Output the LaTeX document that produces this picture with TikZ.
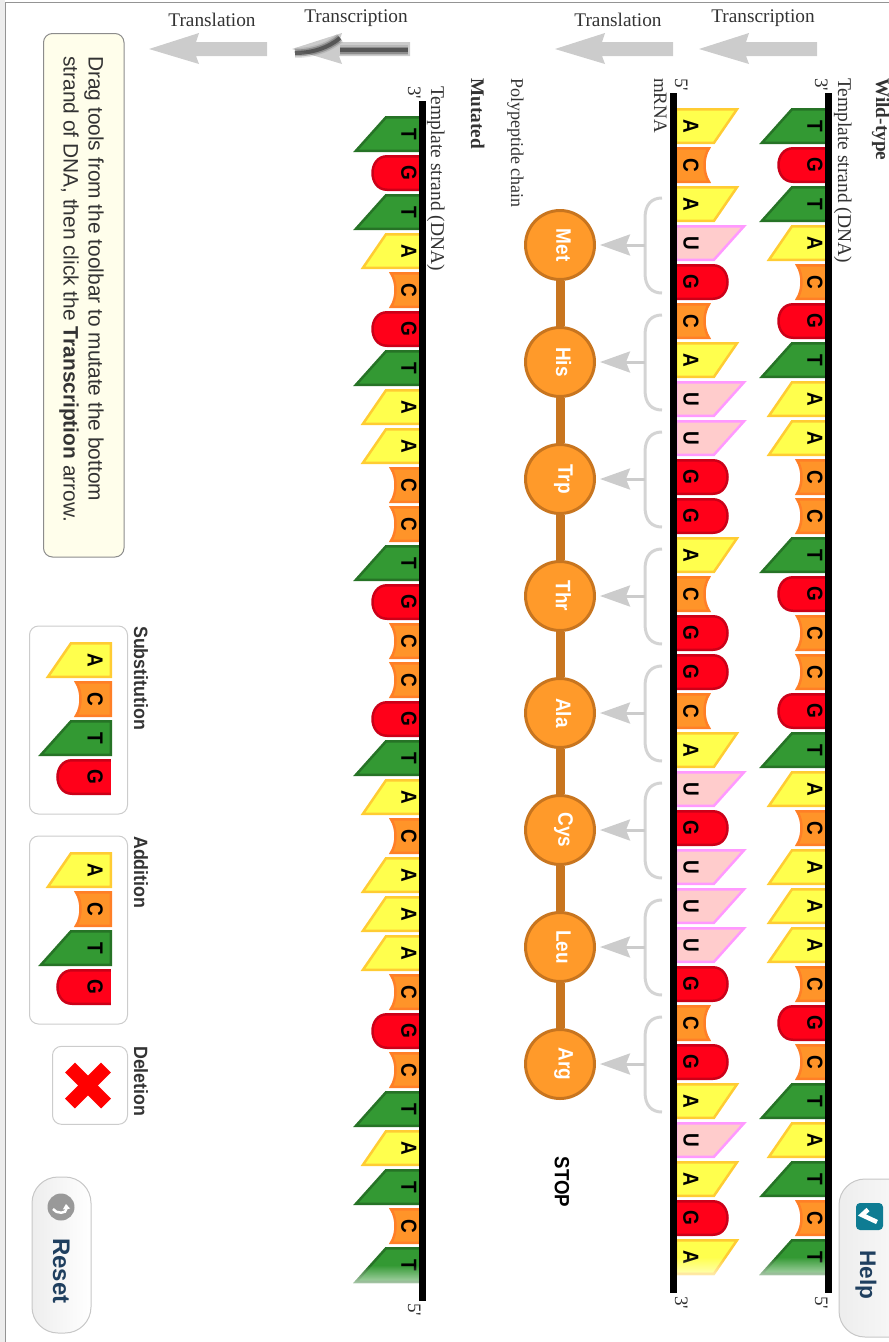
\documentclass[tikz,border=0pt]{standalone}
\usepackage{fontspec}
\setmainfont{Liberation Serif}[Ligatures=TeXOff]
\setsansfont{Liberation Sans}
\usetikzlibrary{arrows.meta, fadings}
\definecolor{aFill}{HTML}{FFFF4D}
\definecolor{aEdge}{HTML}{FFCC33}
\definecolor{cFill}{HTML}{FF9429}
\definecolor{cEdge}{HTML}{FF7F27}
\definecolor{gFill}{HTML}{FF0019}
\definecolor{gEdge}{HTML}{CC0018}
\definecolor{tFill}{HTML}{339933}
\definecolor{tEdge}{HTML}{267326}
\definecolor{uFill}{HTML}{FFCCCC}
\definecolor{uEdge}{HTML}{FF99FF}
\definecolor{aminoFill}{HTML}{FF9A2A}
\definecolor{aminoEdge}{HTML}{C8751F}
\definecolor{textDark}{HTML}{333333}
\definecolor{navyText}{HTML}{1F3F5F}
\newcommand{\stem}{0}
\newcommand{\inbar}{5}
\tikzset{
	basepath/.style={line width=2.5pt, line join=miter},
	baseletter/.style={font=\sffamily\bfseries\fontsize{19}{19}\selectfont, rotate=-90, yscale=1.15, inner sep=0pt},
	% The letter sits at a fixed distance from the strand side of each base.
	baseA/.pic={
		\filldraw[basepath, fill=aFill, draw=aEdge] (\inbar,-16.75) -- ({-33-\stem},-16.75) -- ({-56-\stem},16.75) -- (\inbar,16.75) -- cycle;
		\node[baseletter] (lbl) at ({-10-\stem*.85},0) {A};
	},
	baseC/.pic={
		\filldraw[basepath, fill=cFill, draw=cEdge] (\inbar,-16.75) -- ({-28-\stem},-16.75) .. controls ({-22-\stem},-8) and ({-22-\stem},8) .. ({-28-\stem},16.75) -- (\inbar,16.75) -- cycle;
		\node[baseletter] (lbl) at ({-10-\stem*.85},0) {C};
	},
	baseG/.pic={
		\filldraw[basepath, fill=gFill, draw=gEdge] (\inbar,-16.75) -- ({-32-\stem},-16.75) .. controls ({-42-\stem},-16.75) and ({-46.5-\stem},-8) .. ({-46.5-\stem},0) .. controls ({-46.5-\stem},8) and ({-42-\stem},16.75) .. ({-32-\stem},16.75) -- (\inbar,16.75);
		\node[baseletter] (lbl) at ({-10-\stem*.85},0) {G};
	},
	baseT/.pic={
		\filldraw[basepath, fill=tFill, draw=tEdge] (\inbar,-16.75) -- ({-33-\stem},-16.75) -- ({-63-\stem},16.75) -- (\inbar,16.75) -- cycle;
		\node[baseletter] (lbl) at ({-10-\stem*.85},0) {T};
	},
	baseU/.pic={
		\filldraw[basepath, fill=uFill, draw=uEdge] (\inbar,-16.75) -- ({-33-\stem},-16.75) -- ({-63-\stem},16.75) -- (\inbar,16.75) -- cycle;
		\node[baseletter] (lbl) at ({-10-\stem*.85},0) {U};
	},
	flowarrow/.pic={
		\fill[black!20] (0,0) -- (50,-16) -- (47,-7) -- (118,-7) -- (118,7) -- (47,7) -- (50,15) -- cycle;
	},
	strand/.style={fill=black},
	fadeend/.style={fill=white, fill opacity=.6, path fading=north},
	serifnote/.style={font=\fontsize{19}{19}\selectfont, text=textDark, rotate=-90, anchor=base west, inner sep=0pt},
	serifhead/.style={serifnote, font=\bfseries\fontsize{19.3}{19}\selectfont},
	flowlabel/.style={font=\fontsize{19.3}{19}\selectfont, text=textDark, inner sep=0pt, anchor=base},
	toollabel/.style={font=\sffamily\bfseries\fontsize{17.8}{18}\selectfont, text=textDark, rotate=-90, yscale=1.08, anchor=base west, inner sep=0pt},
	hintline/.style={font=\sffamily\fontsize{20.9}{21}\selectfont, text=textDark, rotate=-90, anchor=base west, inner sep=0pt},
	amino/.style={circle, draw=aminoEdge, fill=aminoFill, line width=3pt, minimum size=69pt, inner sep=0pt, text=white, font=\sffamily\bfseries\fontsize{19}{19}\selectfont},
	chainline/.style={draw=aminoEdge, line width=9pt},
	bracketline/.style={draw=black!17, line width=3pt},
	codonarrow/.style={draw=black!20, line width=3pt, shorten >=4pt, -{Stealth[length=30pt, width=21pt, inset=4pt]}},
	toolbox/.style={draw=black!20, fill=white, rounded corners=9pt, line width=1pt, inner sep=0pt},
	pillbutton/.style={draw=black!22, left color=black!7, right color=white, rounded corners=26pt, line width=1pt, inner sep=0pt}
}

\begin{document}
\begin{tikzpicture}[x=1pt, y=-1pt]
	\useasboundingbox (0,0) rectangle (889,1342);
	
	% === FRAME ===
	\fill[black!7] (0,0) rectangle (5,1342);
	\draw[black!42, line width=1pt] (889,2.5) -- (5.5,2.5) -- (5.5,1342);
	
	% === FLOW ARROWS ===
	\pic at (699,49) {flowarrow};
	\pic at (555,49) {flowarrow};
	\pic at (292,49) {flowarrow};
	\pic at (149,49) {flowarrow};
	
	% smudge on the lower transcription arrow
	\foreach \w/\o in {10/.15, 7/.35, 4/.7} {
		\draw[black!75, line width=\w pt, opacity=\o] (340,50) -- (408,50);
		\draw[black!75, line width=\w pt, opacity=\o] (295,53) .. controls (312,53) and (328,48) .. (340,38);
	}
	
	\node[flowlabel] (transWild) at (763,22) {Transcription};
	\node[flowlabel] (translWild) at (618,26) {Translation};
	\node[flowlabel] (transMut) at (356,22) {Transcription};
	\node[flowlabel] (translMut) at (212,26) {Translation};
	
	% === WILD-TYPE STRANDS ===
	\foreach \letter [count=\i from 0] in {T,G,T,A,C,G,T,A,A,C,C,T,G,C,C,G,T,A,C,A,A,A,C,G,C,T,A,T,C,T} {
		\pic (tmpl\i) at (825,{126+39*\i}) {base\letter};
	}
	\foreach \letter [count=\i from 0] in {A,C,A,U,G,C,A,U,U,G,G,A,C,G,G,C,A,U,G,U,U,U,G,C,G,A,U,A,G,A} {
		\pic[rotate=180] (rna\i) at (681,{126+39*\i}) {base\letter};
	}
	\fill[fadeend] (759,1257) rectangle (825,1275);
	\fill[fadeend] (677,1257) rectangle (747,1275);
	\fill[strand] (825,93) rectangle (832,1293);
	\fill[strand] (670,93) rectangle (677,1293);
	
	\node[serifhead] (wildLabel) at (876,78) {Wild-type};
	\node[serifnote, font=\fontsize{19.5}{19}\selectfont] (tmplLabel) at (838,78) {Template strand (DNA)};
	\node[serifnote] (tmplEndA) at (815,78) {3'};
	\node[serifnote] (tmplEndB) at (815,1296) {5'};
	\node[serifnote] (rnaLabel) at (654,78) {mRNA};
	\node[serifnote] (rnaEndA) at (675,78) {5'};
	\node[serifnote] (rnaEndB) at (675,1296) {3'};
	
	% === POLYPEPTIDE ===
	\node[serifnote, font=\fontsize{18}{18}\selectfont] (chainLabel) at (511,78) {Polypeptide chain};
	\foreach \name/\txt [count=\i from 0] in {met/Met, his/His, trp/Trp, thr/Thr, ala/Ala, cys/Cys, leu/Leu, arg/Arg} {
		\node[amino] (\name) at (560,{245+117*\i}) {\hspace{7pt}\rotatebox{-90}{\scalebox{1}[1.1]{\txt}}};
		\coordinate (brk\i) at (645,{245+117*\i});
		\draw[bracketline] (662,{198+117*\i}) .. controls (652,{198+117*\i}) and (645,{204+117*\i}) .. (645,{218+117*\i}) -- (645,{273+117*\i}) .. controls (645,{287+117*\i}) and (652,{293+117*\i}) .. (662,{293+117*\i});
		\draw[codonarrow] (brk\i) -- (\name);
	}
	\draw[chainline] (met) -- (his);
	\draw[chainline] (his) -- (trp);
	\draw[chainline] (trp) -- (thr);
	\draw[chainline] (thr) -- (ala);
	\draw[chainline] (ala) -- (cys);
	\draw[chainline] (cys) -- (leu);
	\draw[chainline] (leu) -- (arg);
	\node[font=\sffamily\bfseries\fontsize{18.7}{19}\selectfont, rotate=-90, yscale=1.1, inner sep=0pt] (stopLabel) at (562,1182) {STOP};
	
	% === MUTATED STRAND ===
	\foreach \letter [count=\i from 0] in {T,G,T,A,C,G,T,A,A,C,C,T,G,C,C,G,T,A,C,A,A,A,C,G,C,T,A,T,C,T} {
		\pic (mut\i) at (419,{134+39*\i}) {base\letter};
	}
	\fill[fadeend] (353,1265) rectangle (419,1283);
	\fill[strand] (419,101) rectangle (426,1301);
	\node[serifhead] (mutLabel) at (471,78) {Mutated};
	\node[serifnote, font=\fontsize{19.5}{19}\selectfont] (mutTmplLabel) at (431,86) {Template strand (DNA)};
	\node[serifnote] (mutEndA) at (408,86) {3'};
	\node[serifnote] (mutEndB) at (408,1303) {5'};
	
	% === INSTRUCTIONS ===
	\draw[fill=yellow!8, draw=black!45, line width=1pt, rounded corners=9pt] (43.5,33.5) rectangle (124,557);
	\node[hintline] (hintA) at (88.5,56) {Drag tools from the toolbar to mutate the bottom};
	\node[hintline] (hintB) at (63.5,56) {strand of DNA, then click the \textbf{Transcription} arrow.};
	
	% === TOOLBOX ===
	\node[toolbox, minimum width=98pt, minimum height=188pt] (subBox) at (78.5,720) {};
	\node[toolbox, minimum width=98pt, minimum height=188pt] (addBox) at (78.5,930) {};
	\node[toolbox, minimum width=75pt, minimum height=78pt] (delBox) at (90,1085.3) {};
	\renewcommand{\stem}{8}
	\renewcommand{\inbar}{-1.25}
	\foreach \letter [count=\i from 0] in {A,C,T,G} {
		\pic (subTool\i) at (112,{660+39*\i}) {base\letter};
		\pic (addTool\i) at (112,{870+39*\i}) {base\letter};
	}
	\draw[red, line width=14pt] (70,1067.5) -- (106,1103.5);
	\draw[red, line width=14pt] (70,1103.5) -- (106,1067.5);
	\node[toollabel] (subLabel) at (134,626) {Substitution};
	\node[toollabel] (addLabel) at (134,836) {Addition};
	\node[toollabel] (delLabel) at (134,1046) {Deletion};
	
	% === BUTTONS ===
	\node[pillbutton, minimum width=59pt, minimum height=156pt] (resetBtn) at (61.5,1255) {};
	\node[circle, fill=black!40, minimum size=27pt, inner sep=0pt] (resetIcon) at (61,1207) {};
	\draw[white, line width=2.5pt, -{Triangle[length=5pt, width=7pt]}] (53,1209) .. controls (56,1214) and (67,1214) .. (66,1204);
	\node[font=\sffamily\bfseries\fontsize{24}{24}\selectfont, text=navyText, rotate=-90, anchor=base west, inner sep=0pt] (resetLabel) at (53,1238) {Reset};
	
	\node[pillbutton, minimum width=100pt, minimum height=158pt] (helpBtn) at (889,1258) {};
	\node[fill={rgb,255:red,14;green,124;blue,147}, rounded corners=4pt, minimum size=27pt, inner sep=0pt] (helpIcon) at (869.5,1216.5) {};
	\draw[white, line width=4.5pt] (868,1209.5) -- (862,1215) -- (877,1222);
	\node[font=\sffamily\bfseries\fontsize{22.6}{23}\selectfont, text=navyText, rotate=-90, anchor=base west, inner sep=0pt] (helpLabel) at (860,1250) {Help};
\end{tikzpicture}
\end{document}
